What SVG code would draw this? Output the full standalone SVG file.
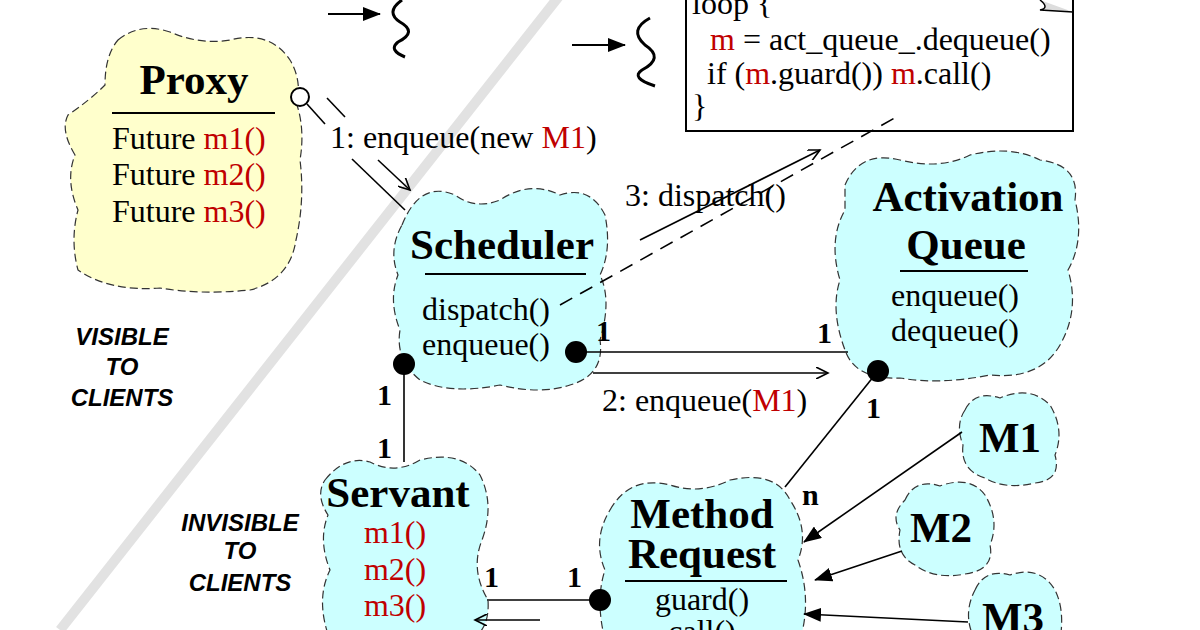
<svg xmlns="http://www.w3.org/2000/svg" width="1200" height="630" viewBox="0 0 1200 630">
<style>
.t{font-family:"Liberation Serif",serif;font-size:32px;fill:#000}
.b{font-family:"Liberation Serif",serif;font-weight:bold;font-size:43px;fill:#000}
.n{font-family:"Liberation Serif",serif;font-weight:bold;font-size:30px;fill:#000}
.r{fill:#c00000}
.v{font-family:"Liberation Sans",sans-serif;font-weight:bold;font-style:italic;font-size:24px;fill:#000;text-anchor:middle}
.cy{fill:#ccffff;stroke:#333;stroke-width:1.2;stroke-dasharray:8 4}
.ye{fill:#ffffcc;stroke:#333;stroke-width:1.2;stroke-dasharray:8 4}
.ln{stroke:#000;stroke-width:1.6;fill:none}
</style>
<defs>
<marker id="o" markerWidth="14" markerHeight="12" refX="12" refY="6" orient="auto" markerUnits="userSpaceOnUse"><path d="M0,0 L12,6 L0,12" fill="none" stroke="#000" stroke-width="1.6"/></marker>
<marker id="f" markerWidth="18" markerHeight="14" refX="17" refY="7" orient="auto" markerUnits="userSpaceOnUse"><path d="M0,0 L18,7 L0,14 z" fill="#000"/></marker>
</defs>
<line x1="560" y1="-5" x2="60" y2="630" stroke="#e2e2e2" stroke-width="10"/>
<g id="waves" class="ln" stroke-width="3">
<line x1="328" y1="14" x2="380" y2="14" marker-end="url(#f)" stroke-width="2"/>
<path d="M402,0 Q385,12 400,22 Q418,32 398,42 Q388,50 405,57" stroke-width="3"/>
<line x1="572" y1="45" x2="625" y2="45" marker-end="url(#f)" stroke-width="2"/>
<path d="M650,18 Q628,30 645,45 Q665,58 642,70 Q630,78 655,86" stroke-width="3"/>
</g>
<g id="note">
<path d="M686,-2 L686,131 L1073,131 L1073,-2" fill="#fff" stroke="#000" stroke-width="2"/>
<path d="M1040,0 Q1050,8 1040,10 L1073,12" fill="#ddd" stroke="#000" stroke-width="1.5"/>
<text class="t" x="692" y="14">loop {</text>
<text class="t" x="710" y="50"><tspan class="r">m</tspan> = act_queue_.dequeue()</text>
<text class="t" x="707" y="84">if (<tspan class="r">m</tspan>.guard()) <tspan class="r">m</tspan>.call()</text>
<text class="t" x="692" y="117">}</text>
</g>
<g id="proxy">
<path class="ye" d="M118,40 Q140,22 170,32 Q200,45 230,40 Q270,30 290,60 Q302,80 297,105 Q305,130 300,160 Q305,200 296,240 Q290,280 250,290 Q200,295 160,288 Q110,292 78,270 Q70,240 78,210 Q65,180 75,155 Q60,130 68,115 Q90,100 105,85 Q105,55 118,40 Z"/>
<text class="b" x="194" y="94" text-anchor="middle">Proxy</text>
<line x1="112" y1="113" x2="275" y2="113" stroke="#000" stroke-width="2"/>
<text class="t" x="112" y="149">Future <tspan class="r">m1()</tspan></text>
<text class="t" x="112" y="185">Future <tspan class="r">m2()</tspan></text>
<text class="t" x="112" y="222">Future <tspan class="r">m3()</tspan></text>
</g>
<g id="scheduler">
<path class="cy" d="M402,225 Q420,180 455,195 Q475,210 500,200 Q530,180 560,195 Q590,185 605,215 Q612,250 600,275 Q612,300 600,340 Q605,375 570,385 Q540,395 500,385 Q450,395 420,380 Q395,360 400,330 Q388,300 398,275 Q388,250 402,225 Z"/>
<text class="b" x="502" y="259" text-anchor="middle">Scheduler</text>
<line x1="425" y1="274" x2="586" y2="274" stroke="#000" stroke-width="2"/>
<text class="t" x="422" y="320">dispatch()</text>
<text class="t" x="422" y="355">enqueue()</text>
</g>
<g id="aq">
<path class="cy" d="M845,185 Q860,150 900,160 Q940,170 970,155 Q1010,145 1040,160 Q1080,165 1075,200 Q1085,240 1068,270 Q1080,310 1060,345 Q1040,380 990,375 Q940,385 900,378 Q855,380 845,350 Q830,310 840,280 Q828,240 845,210 Z"/>
<text class="b" x="968" y="211" text-anchor="middle">Activation</text>
<text class="b" x="966" y="259" text-anchor="middle">Queue</text>
<line x1="900" y1="271" x2="1028" y2="271" stroke="#000" stroke-width="2"/>
<text class="t" x="955" y="306" text-anchor="middle">enqueue()</text>
<text class="t" x="955" y="341" text-anchor="middle">dequeue()</text>
</g>
<g id="servant">
<path class="cy" d="M325,480 Q345,455 370,462 Q395,475 420,460 Q460,450 480,475 Q495,505 482,540 Q470,570 488,600 Q490,630 470,640 L330,640 Q315,600 330,570 Q318,540 328,515 Q315,495 325,480 Z"/>
<text class="b" x="398" y="507" text-anchor="middle">Servant</text>
<text class="t r" x="395" y="543" text-anchor="middle">m1()</text>
<text class="t r" x="395" y="580" text-anchor="middle">m2()</text>
<text class="t r" x="395" y="616" text-anchor="middle">m3()</text>
</g>
<g id="mr">
<path class="cy" d="M610,510 Q630,475 670,485 Q700,495 730,480 Q775,470 790,500 Q810,530 798,560 Q812,600 800,640 L605,640 Q595,600 605,570 Q592,540 610,510 Z"/>
<text class="b" x="702" y="528" text-anchor="middle">Method</text>
<text class="b" x="702" y="568" text-anchor="middle">Request</text>
<line x1="625" y1="581" x2="787" y2="581" stroke="#000" stroke-width="2"/>
<text class="t" x="702" y="610" text-anchor="middle">guard()</text>
<text class="t" x="702" y="642" text-anchor="middle">call()</text>
</g>
<g id="m1">
<path class="cy" d="M965,410 Q975,390 1000,398 Q1030,385 1050,405 Q1065,430 1055,455 Q1062,480 1035,483 Q1005,490 985,478 Q960,470 963,445 Q955,425 965,410 Z"/>
<text class="b" x="1010" y="452" text-anchor="middle">M1</text>
</g>
<g id="m2">
<path class="cy" d="M905,500 Q915,478 940,486 Q970,475 985,495 Q1000,520 990,545 Q995,570 965,574 Q935,580 915,565 Q895,555 900,530 Q890,515 905,500 Z"/>
<text class="b" x="941" y="542" text-anchor="middle">M2</text>
</g>
<g id="m3">
<path class="cy" d="M975,590 Q985,568 1010,575 Q1040,565 1055,590 Q1065,610 1060,640 L975,640 Q962,615 975,590 Z"/>
<text class="b" x="1013" y="632" text-anchor="middle">M3</text>
</g>
<g id="connectors">
<circle cx="300" cy="97" r="9" fill="#fff" stroke="#000" stroke-width="2"/>
<line class="ln" x1="307" y1="104" x2="325" y2="124"/>
<line class="ln" x1="352" y1="159" x2="405" y2="210"/>
<line class="ln" x1="327" y1="98" x2="345" y2="117"/>
<line class="ln" x1="378" y1="160" x2="410" y2="190" marker-end="url(#o)"/>
<text class="t" x="330" y="148">1: enqueue(new <tspan class="r">M1</tspan>)</text>
<line class="ln" x1="560" y1="305" x2="900" y2="115" stroke-dasharray="14 9"/>
<line class="ln" x1="640" y1="240" x2="820" y2="150" marker-end="url(#o)"/>
<text class="t" x="625" y="206">3: dispatch()</text>
<circle cx="576" cy="352" r="11" fill="#000"/>
<line class="ln" x1="576" y1="352" x2="848" y2="352"/>
<text class="n" x="596" y="341">1</text>
<text class="n" x="817" y="343">1</text>
<line class="ln" x1="593" y1="373" x2="828" y2="373" marker-end="url(#o)"/>
<text class="t" x="602" y="411">2: enqueue(<tspan class="r">M1</tspan>)</text>
<circle cx="404" cy="364" r="11" fill="#000"/>
<line class="ln" x1="404" y1="364" x2="404" y2="462"/>
<text class="n" x="377" y="405">1</text>
<text class="n" x="377" y="458">1</text>
<circle cx="878" cy="371" r="11" fill="#000"/>
<line class="ln" x1="878" y1="371" x2="785" y2="487"/>
<text class="n" x="866" y="418">1</text>
<text class="n" x="802" y="505">n</text>
<circle cx="600" cy="600" r="11" fill="#000"/>
<line class="ln" x1="600" y1="600" x2="487" y2="600"/>
<text class="n" x="484" y="587">1</text>
<text class="n" x="567" y="587">1</text>
<line class="ln" x1="540" y1="620" x2="475" y2="620" marker-end="url(#o)"/>
<line class="ln" x1="962" y1="432" x2="804" y2="542" marker-end="url(#f)"/>
<line class="ln" x1="902" y1="551" x2="815" y2="580" marker-end="url(#f)"/>
<line class="ln" x1="968" y1="622" x2="804" y2="614" marker-end="url(#f)"/>
</g>
<text class="v" x="122" y="345">VISIBLE</text>
<text class="v" x="122" y="375">TO</text>
<text class="v" x="122" y="406">CLIENTS</text>
<text class="v" x="240" y="531">INVISIBLE</text>
<text class="v" x="240" y="559">TO</text>
<text class="v" x="240" y="591">CLIENTS</text>
</svg>
